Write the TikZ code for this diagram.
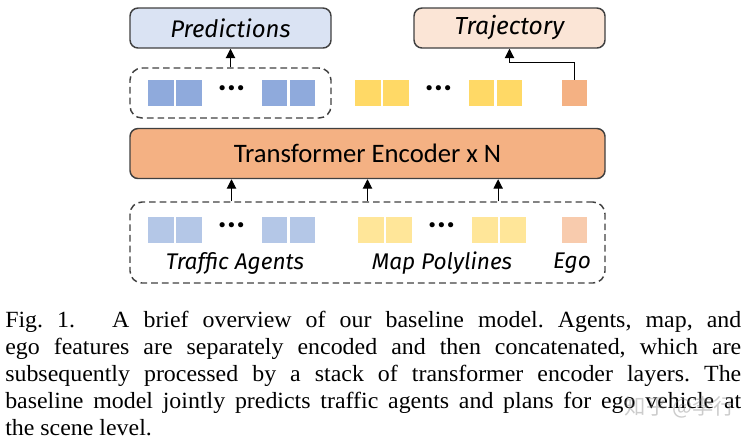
\documentclass[tikz,border=0pt]{standalone}
\usepackage{fontspec}
\setmainfont{Liberation Serif}[FakeStretch=1.03]
\newfontfamily\lblfont{Fira Sans}
\newfontfamily\encfont{Carlito}
\newfontfamily\cjkfont{Noto Sans CJK SC}
\usetikzlibrary{arrows.meta,calc}
\definecolor{bordergray}{HTML}{404040}
\definecolor{predfill}{HTML}{DAE3F3}
\definecolor{trajfill}{HTML}{FBE5D6}
\definecolor{encfill}{HTML}{F4B183}
\definecolor{blueA}{HTML}{8FAADC}
\definecolor{blueB}{HTML}{B4C7E7}
\definecolor{yelA}{HTML}{FFD966}
\definecolor{yelB}{HTML}{FFE699}
\definecolor{egoA}{HTML}{F4B183}
\definecolor{egoB}{HTML}{F8CBAD}
\tikzset{
  outbox/.style={draw=bordergray, line width=1.1pt, rounded corners=6pt, inner sep=0pt},
  dashbox/.style={draw=bordergray, line width=1.1pt, dash pattern=on 5pt off 3pt, rounded corners=9pt, inner sep=0pt},
  sq/.style={minimum width=19.3pt, minimum height=19.5pt, inner sep=0pt},
  dotsnode/.style={inner sep=0pt, font=\encfont\bfseries\fontsize{26}{26}\selectfont},
  lbl/.style={inner sep=0pt, font=\lblfont\itshape\fontsize{17}{17}\selectfont},
  arr/.style={draw=black, line width=0.75pt, -{Triangle[length=7pt,width=7pt]}},
}
\begin{document}
\begin{tikzpicture}[x=0.75pt,y=-0.75pt]
\useasboundingbox (0,0) rectangle (746,444);
% top output boxes
\node[outbox, fill=predfill, minimum width=150.75pt, minimum height=30pt, font=\lblfont\itshape\fontsize{18}{18}\selectfont] (pred) at (230.5,28) {Predictions};
\node[outbox, fill=trajfill, minimum width=143.25pt, minimum height=30pt, font=\lblfont\itshape\fontsize{18.5}{18.5}\selectfont] (traj) at (509.5,28) {Trajectory};
% top token row
\node[dashbox, minimum width=150.75pt, minimum height=37.5pt] (topdash) at (230.5,93) {};
\node[sq, fill=blueA] (ta1) at (161,93) {};
\node[sq, fill=blueA] (ta2) at (189,93) {};
\node[dotsnode] (tda) at (231.5,88) {...};
\node[sq, fill=blueA] (ta3) at (274.5,93) {};
\node[sq, fill=blueA] (ta4) at (302.5,93) {};
\node[sq, fill=yelA] (ty1) at (368,93) {};
\node[sq, fill=yelA] (ty2) at (396,93) {};
\node[dotsnode] (tdy) at (438.5,88) {...};
\node[sq, fill=yelA] (ty3) at (481.5,93) {};
\node[sq, fill=yelA] (ty4) at (509.5,93) {};
\node[sq, fill=egoA] (te) at (574.5,93) {};
% encoder
\node[outbox, fill=encfill, minimum width=356.25pt, minimum height=37.5pt, font=\encfont\fontsize{20}{20}\selectfont] (enc) at (367.5,153.5) {Transformer Encoder x N};
% bottom token row
\node[dashbox, minimum width=356.25pt, minimum height=60.75pt] (botdash) at (367.5,242.5) {};
\node[sq, fill=blueB] (ba1) at (161,230) {};
\node[sq, fill=blueB] (ba2) at (189,230) {};
\node[dotsnode] (bda) at (231.5,225) {...};
\node[sq, fill=blueB] (ba3) at (274.5,230) {};
\node[sq, fill=blueB] (ba4) at (302.5,230) {};
\node[sq, fill=yelB] (by1) at (371,230) {};
\node[sq, fill=yelB] (by2) at (399,230) {};
\node[dotsnode] (bdy) at (441.5,225) {...};
\node[sq, fill=yelB] (by3) at (485,230) {};
\node[sq, fill=yelB] (by4) at (513,230) {};
\node[sq, fill=egoB] (be) at (574.5,230) {};
\node[lbl] (lta) at (235,263) {Traffic Agents};
\node[lbl] (lmp) at (442,263) {Map Polylines};
\node[lbl] (leg) at (572,263) {Ego};
% connectors
\draw[arr] (topdash.north) -- (pred.south);
\coordinate (tbend) at (509.5,62);
\draw[arr] (te.north) |- (tbend) -- (traj.south);
\draw[arr] (botdash.north -| bda) -- (enc.south -| bda);
\draw[arr] (botdash.north) -- (enc.south);
\draw[arr] (botdash.north -| by3.east) -- (enc.south -| by3.east);
% caption
\node[anchor=north west, inner sep=0pt, text width=552pt, align=justify, font=\fontsize{17.4}{20.25}\selectfont\frenchspacing] (cap) at (5,311) {Fig.~1.\hspace{1.6em}A brief overview of our baseline model. Agents, map, and\linebreak ego features are separately encoded and then concatenated, which are\linebreak subsequently processed by a stack of transformer encoder layers. The\linebreak baseline model jointly predicts traffic agents and plans for ego vehicle at\linebreak the scene level.};
\node[inner sep=0pt, text=gray, opacity=0.4, font=\cjkfont\fontsize{16}{16}\selectfont] (wm) at (680,407) {知乎 @李行};
\end{tikzpicture}
\end{document}
